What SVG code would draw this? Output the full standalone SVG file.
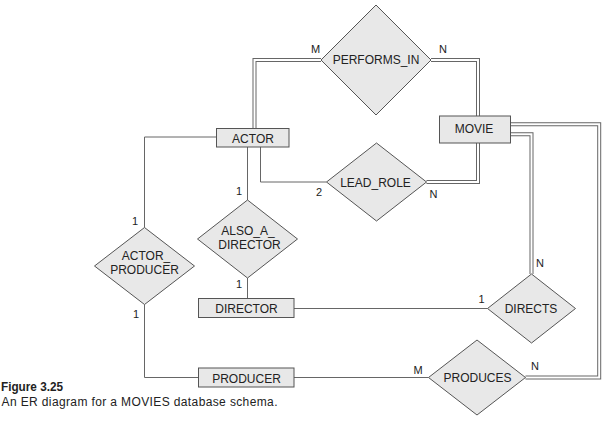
<svg xmlns="http://www.w3.org/2000/svg" width="612" height="423" viewBox="0 0 612 423">
<style>
  .bg { fill: #ffffff; }
  .ent rect { fill: #e8e8e8; stroke: #555555; stroke-width: 1; }
  .rel polygon { fill: #e8e8e8; stroke: #555555; stroke-width: 1; }
  text { font-family: "Liberation Sans", Arial, sans-serif; fill: #222222; }
  .lbl { font-size: 12px; text-anchor: middle; }
  .card { font-size: 11px; text-anchor: middle; }
  .single { fill: none; stroke: #666666; stroke-width: 1; }
  .dblo { fill: none; stroke: #666666; stroke-width: 4; }
  .dbli { fill: none; stroke: #ffffff; stroke-width: 2; }
  .cap1 { font-size: 12px; font-weight: bold; }
  .cap2 { font-size: 12px; }
</style>
<rect class="bg" x="0" y="0" width="612" height="423"/>

<g id="connectors">
  <!-- single lines -->
  <path class="single" d="M 260.5 147 V 182 H 326.5"/>
  <path class="single" d="M 216.5 137 H 144.5 V 227.5"/>
  <path class="single" d="M 144.5 304.5 V 377.5 H 198.5"/>
  <path class="single" d="M 247.5 147 V 200"/>
  <path class="single" d="M 247.5 278 V 298.5"/>
  <path class="single" d="M 294 308.5 H 487.5"/>
  <path class="single" d="M 294 377.5 H 428.5"/>
  <!-- double lines (total participation) -->
  <path class="dblo" d="M 254.5 128.5 V 60 H 321"/>
  <path class="dbli" d="M 254.5 128.5 V 60 H 321"/>
  <path class="dblo" d="M 431 60 H 478 V 116"/>
  <path class="dbli" d="M 431 60 H 478 V 116"/>
  <path class="dblo" d="M 426.5 182 H 478 V 143"/>
  <path class="dbli" d="M 426.5 182 H 478 V 143"/>
  <path class="dblo" d="M 510.5 134.3 H 531.5 V 274"/>
  <path class="dbli" d="M 510.5 134.3 H 531.5 V 274"/>
  <path class="dblo" d="M 510.5 124.2 H 599.2 V 377.5 H 525.5"/>
  <path class="dbli" d="M 510.5 124.2 H 599.2 V 377.5 H 525.5"/>
</g>

<g id="PERFORMS_IN" class="rel">
  <polygon points="376,5 431,60 376,115 321,60"/>
  <text class="lbl" x="376" y="64">PERFORMS_IN</text>
</g>
<g id="LEAD_ROLE" class="rel">
  <polygon points="376.5,143 426.5,182 376.5,221 326.5,182"/>
  <text class="lbl" x="375.5" y="186.5">LEAD_ROLE</text>
</g>
<g id="ALSO_A_DIRECTOR" class="rel">
  <polygon points="247.5,200 297.5,239 247.5,278 197.5,239"/>
  <text class="lbl" x="248" y="235">ALSO_A_</text>
  <text class="lbl" x="249.5" y="249">DIRECTOR</text>
</g>
<g id="ACTOR_PRODUCER" class="rel">
  <polygon points="144.5,227.5 194.5,266 144.5,304.5 94.5,266"/>
  <text class="lbl" x="146" y="260">ACTOR_</text>
  <text class="lbl" x="144.5" y="274">PRODUCER</text>
</g>
<g id="DIRECTS" class="rel">
  <polygon points="531.5,274 575.5,308.5 531.5,343 487.5,308.5"/>
  <text class="lbl" x="531" y="313">DIRECTS</text>
</g>
<g id="PRODUCES" class="rel">
  <polygon points="477,340 525.5,377.5 477,415 428.5,377.5"/>
  <text class="lbl" x="477.5" y="382">PRODUCES</text>
</g>

<g id="ACTOR" class="ent">
  <rect x="216.5" y="128.5" width="72.5" height="18.5"/>
  <text class="lbl" x="253" y="142.5">ACTOR</text>
</g>
<g id="MOVIE" class="ent">
  <rect x="439.5" y="116" width="71" height="27"/>
  <text class="lbl" x="474" y="132.5">MOVIE</text>
</g>
<g id="DIRECTOR" class="ent">
  <rect x="198.5" y="298.5" width="95.5" height="19"/>
  <text class="lbl" x="246.5" y="312.5">DIRECTOR</text>
</g>
<g id="PRODUCER" class="ent">
  <rect x="198.5" y="368" width="95.5" height="19"/>
  <text class="lbl" x="246.5" y="382.5">PRODUCER</text>
</g>

<g id="cardinalities">
  <text class="card" x="315.5" y="53">M</text>
  <text class="card" x="443" y="53">N</text>
  <text class="card" x="319" y="196">2</text>
  <text class="card" x="433.5" y="198">N</text>
  <text class="card" x="239" y="195">1</text>
  <text class="card" x="239" y="288">1</text>
  <text class="card" x="135" y="224.5">1</text>
  <text class="card" x="136" y="317.5">1</text>
  <text class="card" x="540" y="267">N</text>
  <text class="card" x="481.5" y="303">1</text>
  <text class="card" x="535" y="370">N</text>
  <text class="card" x="418" y="373.5">M</text>
</g>

<g id="caption">
  <text class="cap1" x="1" y="391" textLength="62" lengthAdjust="spacingAndGlyphs">Figure 3.25</text>
  <text class="cap2" x="1.5" y="406" textLength="276" lengthAdjust="spacing">An ER diagram for a MOVIES database schema.</text>
</g>
</svg>
